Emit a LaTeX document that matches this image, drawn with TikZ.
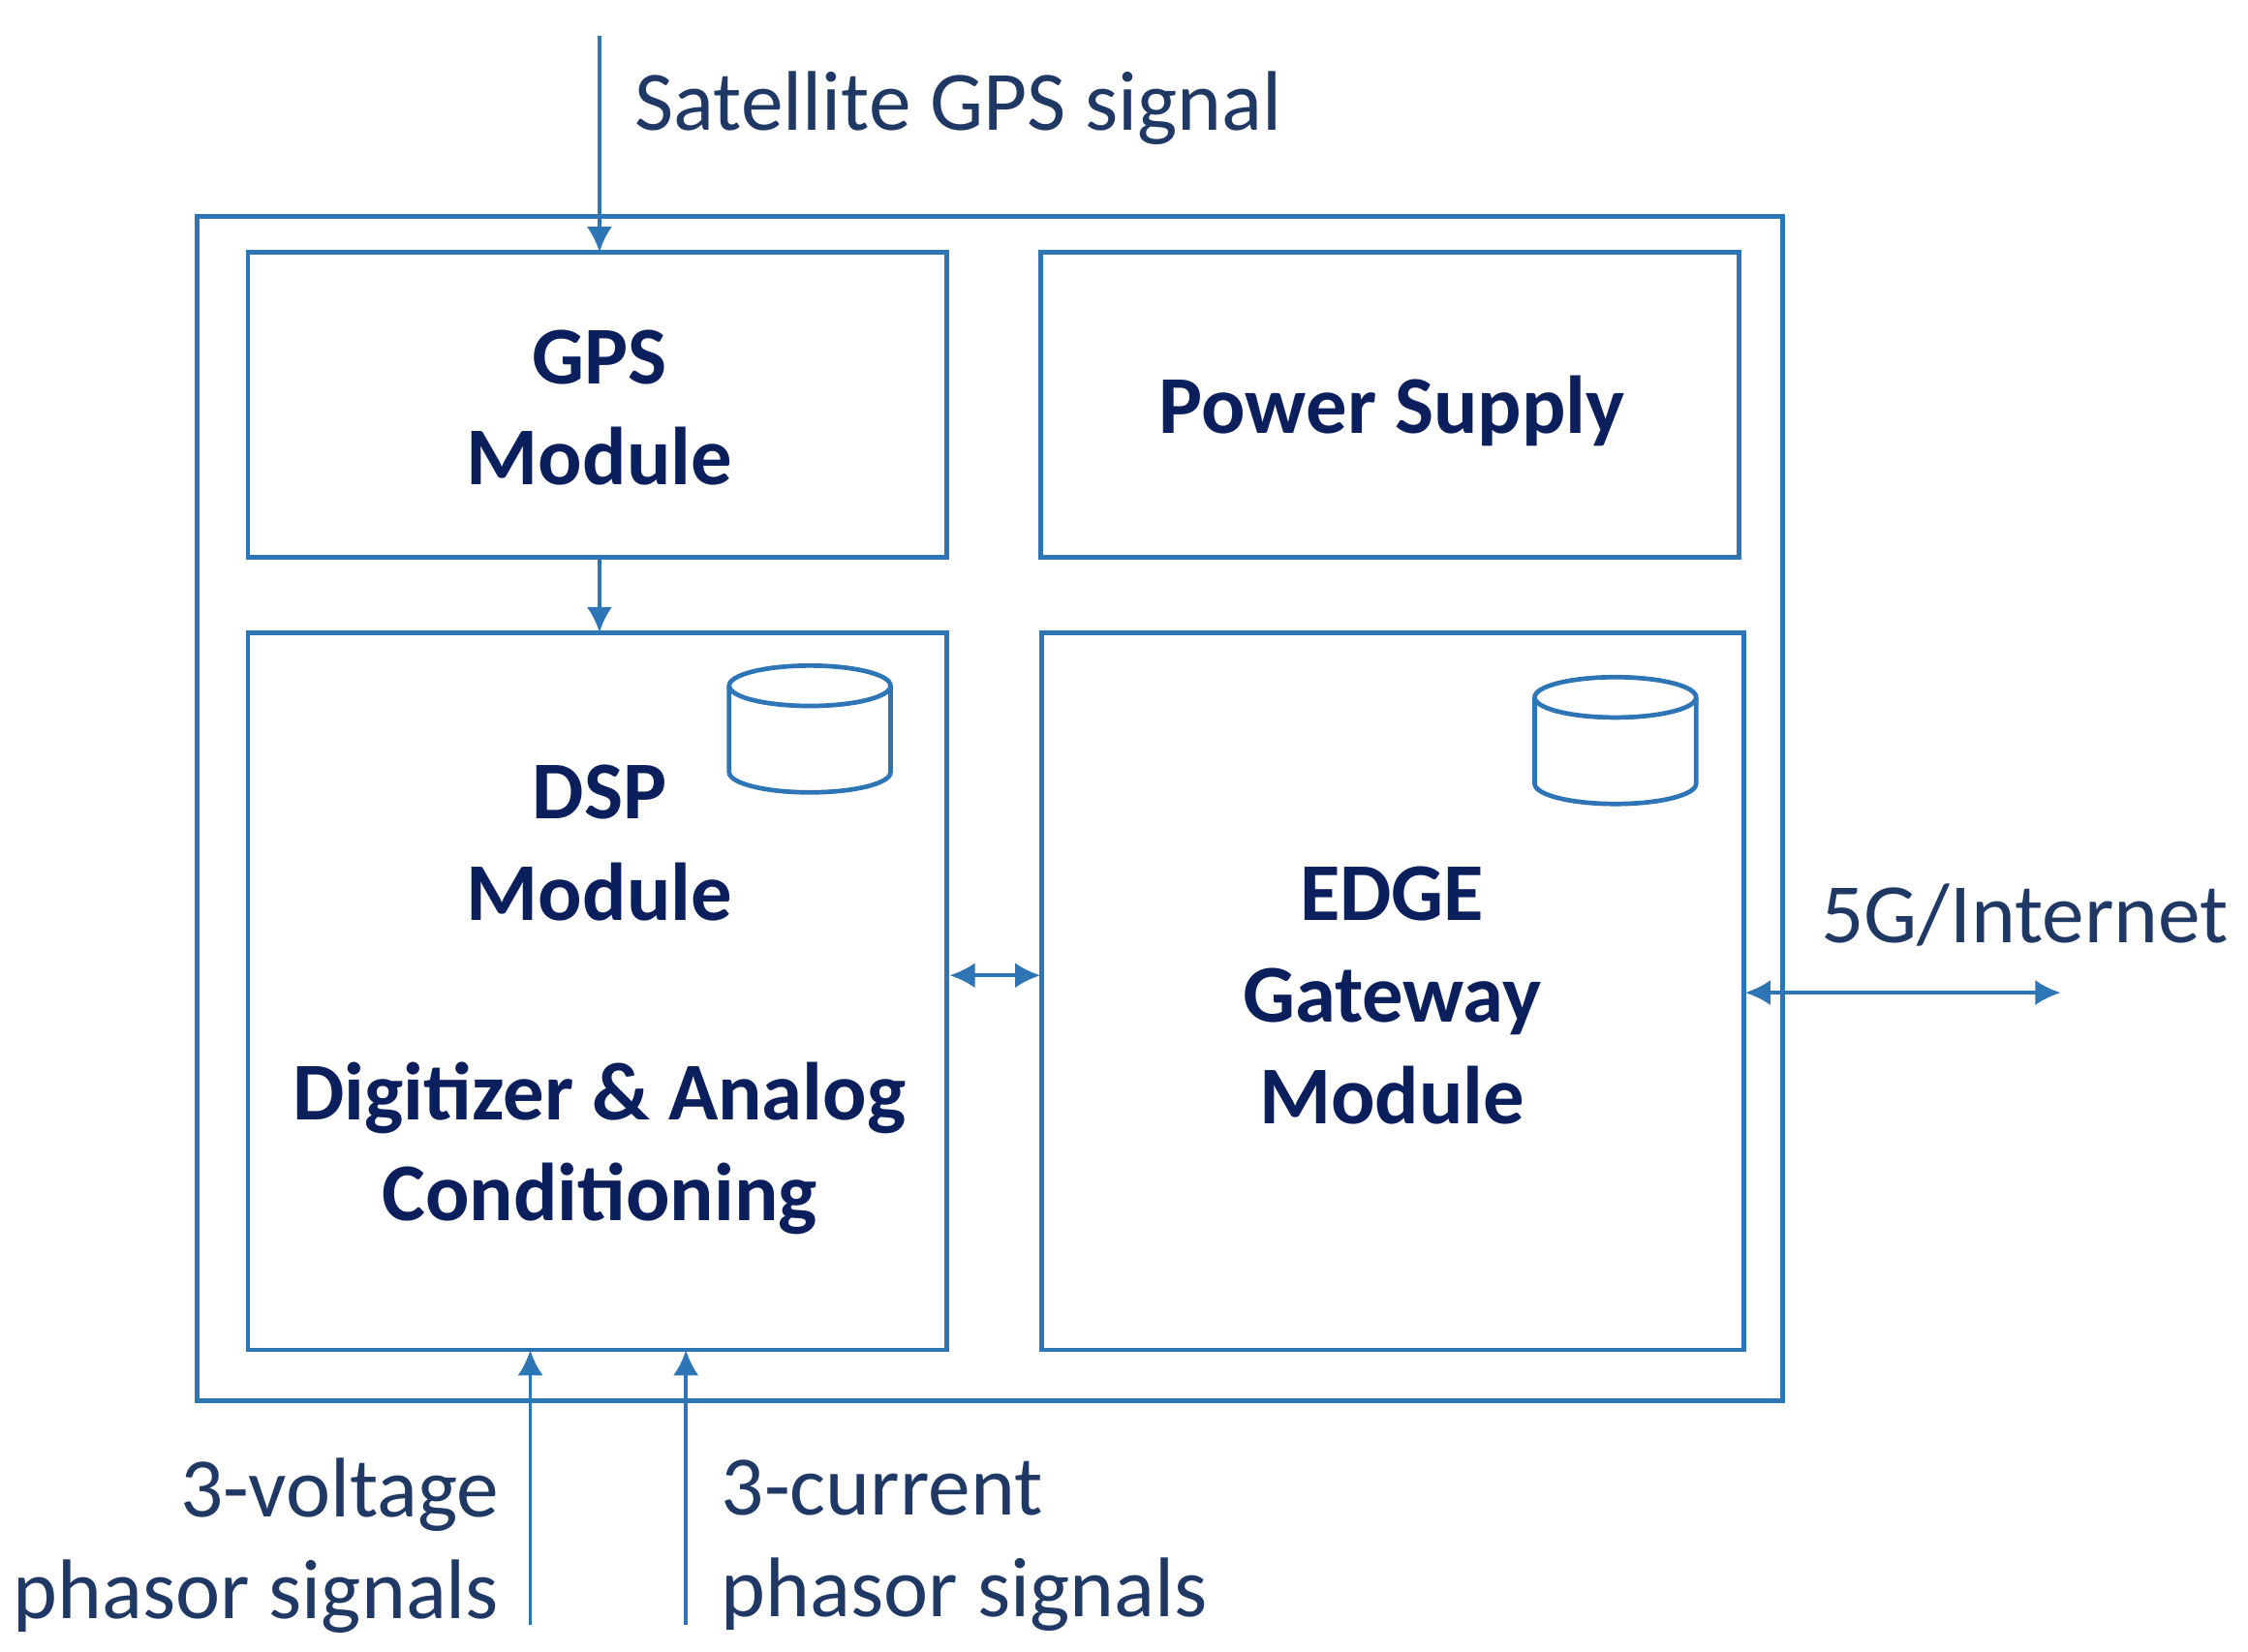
\documentclass[tikz,border=0pt]{standalone}
\usepackage{fontspec}
\setmainfont{Carlito}
\usetikzlibrary{arrows.meta}
\definecolor{ln}{HTML}{2E75B6}
\definecolor{tx}{HTML}{1F3864}
\definecolor{bt}{HTML}{0B1F5C}
\begin{document}
\begin{tikzpicture}[x=0.01cm,y=-0.01cm,
  box/.style={draw=ln,line width=0.9pt},
  lab/.style={text=tx,font=\fontsize{16.7}{20}\selectfont,inner sep=0pt},
  blab/.style={text=bt,font=\bfseries\fontsize{16.2}{20}\selectfont,align=center,inner sep=0pt},
  arr/.style={draw=ln,line width=0.7pt,-{Latex[length=5pt,width=5pt]}},
  darr/.style={draw=ln,line width=0.7pt,{Latex[length=5pt,width=5pt]}-{Latex[length=5pt,width=5pt]}}]
\useasboundingbox (0,0) rectangle (1560,1146);
\draw[box] (137,150) rectangle (1237,972);
\draw[box] (172,175) rectangle (657,387);
\draw[box] (722,175) rectangle (1207,387);
\draw[box] (172,439) rectangle (657,937);
\draw[box] (723,439) rectangle (1210,937);
% cylinders
\foreach \cx/\ty/\by in {562/476/536, 1121/484/544}{
  \draw[box] (\cx-56,\ty) -- (\cx-56,\by) arc[start angle=180,end angle=360,x radius=56,y radius=-14] -- (\cx+56,\ty);
  \draw[box] (\cx,\ty) ellipse[x radius=56,y radius=14];
}
\coordinate (gtop) at (416,175);
\coordinate (gsrc) at (416,25);
\coordinate (gbot) at (416,387);
\coordinate (dtop) at (416,439);
\coordinate (dr) at (659,677);
\coordinate (el) at (722,677);
\coordinate (er) at (1211,689);
\coordinate (net) at (1430,689);
\coordinate (vb) at (368,937);
\coordinate (vs) at (368,1128);
\coordinate (cb) at (476,937);
\coordinate (cs) at (476,1128);
\draw[arr] (gsrc) -- (gtop);
\draw[arr] (gbot) -- (dtop);
\draw[darr] (dr) -- (el);
\draw[darr] (er) -- (net);
\draw[arr] (vs) -- (vb);
\draw[arr] (cs) -- (cb);
\node[lab,anchor=west] (sat) at (440,75) {Satellite GPS signal};
\node[lab,anchor=west] (net5) at (1263,635) {5G/Internet};
\node[lab,anchor=east,align=right] (volt) at (347,1073) {3-voltage\\phasor signals};
\node[lab,anchor=west,align=left] (cur) at (500,1073) {3-current\\phasor signals};
\node[blab] (gps) at (416,283) {GPS\\Module};
\node[blab] (pow) at (966,285) {Power Supply};
\node[blab] (dsp) at (416,585) {DSP\\Module};
\node[blab] (dig) at (416,797) {Digitizer \& Analog\\Conditioning};
\node[blab] (edge) at (966,691) {EDGE\\Gateway\\Module};
\end{tikzpicture}
\end{document}
